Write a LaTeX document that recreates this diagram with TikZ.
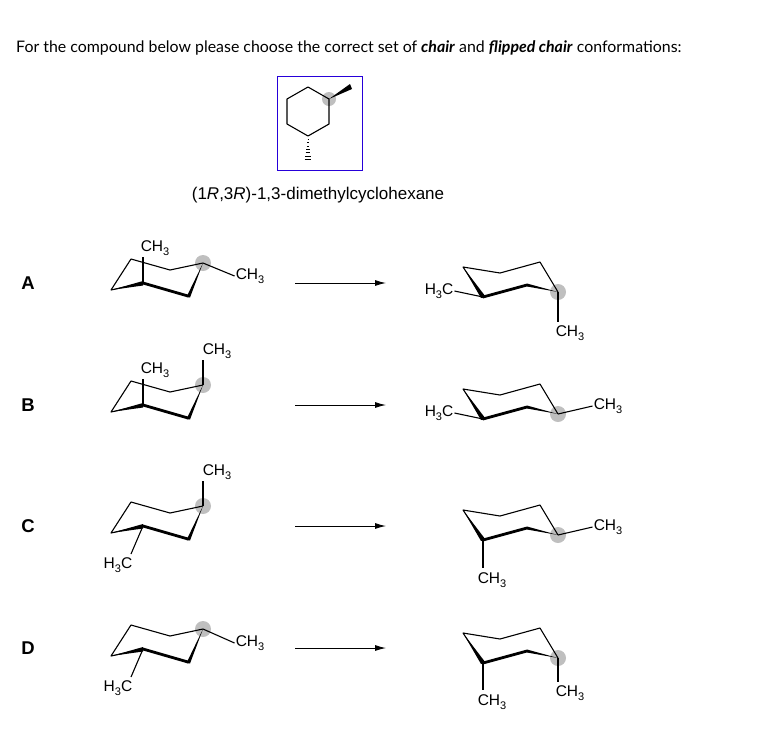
\documentclass[tikz,border=0pt]{standalone}
\usepackage{fontspec}
\usetikzlibrary{arrows.meta}
\setmainfont{Lato}
\newfontfamily\arial{Liberation Sans}
\newcommand\sbt[1]{\raisebox{-0.25em}{\fontsize{11}{12}\selectfont #1}}
\begin{document}
\begin{tikzpicture}[x=1pt,y=-1pt,
  lbl/.style={font=\arial\fontsize{15.5}{17}\selectfont,inner sep=1pt},
  bd/.style={line width=1.1pt,line join=round},
  bold/.style={line width=2.8pt,line cap=round},
  hl/.style={fill=black!25},
  rarrow/.style={-{Latex[length=11pt,width=6pt]},line width=0.9pt},
  letter/.style={font=\arial\bfseries\fontsize{18.5}{20}\selectfont}]
\useasboundingbox (0,0) rectangle (767,729);
\node[anchor=west,font=\fontsize{15.9}{18}\selectfont,inner sep=0] (title) at (16,48) {For the compound below please choose the correct set of \textbf{\textit{chair}} and \textbf{\textit{flipped chair}} conformations:};
% compound
\node[draw=blue!70!violet,line width=0.8pt,minimum width=85,minimum height=94] (box) at (319.5,123) {};
\fill[hl] (329,99) circle (7);
\draw[bd] (308,87)--(329,99)--(329,124)--(308,136)--(287,124)--(287,99)--cycle;
\fill (329,99)--(350,84)--(352,89)--cycle;
\foreach \i in {0,...,6} \draw[line width=0.6pt] ({308-0.4-\i*0.5},{139+\i*3.4})--({308+0.4+\i*0.5},{139+\i*3.4});
\node[font=\arial\fontsize{17}{19}\selectfont,inner sep=0] (name) at (318,195) {(1\textit{R},3\textit{R})-1,3-dimethylcyclohexane};
% left chair
\newcommand\lchair{%
  \fill[hl] (203,263) circle (8);
  \draw[bd] (143,283)--(111,290)--(131,259)--(170,270)--(203,263);
  \fill (111,290)--(143,281)--(143,285.5)--cycle;
  \draw[bold] (143,283)--(188,296);
  \fill (203,263)--(186.5,297)--(190,297.5)--cycle;}
\newcommand\rchair{%
  \fill[hl] (558,292) circle (8);
  \draw[bd] (483,297)--(463,267)--(500,273)--(540,262)--(558,292);
  \fill (463,267)--(481,298)--(485.5,296.5)--cycle;
  \draw[bold] (483,297)--(527,285);
  \fill (527,283.5)--(527,286.5)--(558,292)--cycle;}
\newcommand\CH{CH\sbt{3}}
\newcommand\HC{H\sbt{3}C}
% letters & arrows
\foreach \l/\y in {A/283,B/405,C/526,D/648}{
  \node[letter] (let\l) at (28,\y) {\l};
  \coordinate (as\l) at (295,\y); \coordinate (ae\l) at (386,\y);
  \draw[rarrow] (as\l)--(ae\l);}
% row A
\begin{scope}
\lchair
\node[lbl] (a1) at (155,248) {\CH};
\draw[bd] (143,283)--(143,257);
\node[lbl] (a2) at (250,276) {\CH};
\draw[bd] (203,263)--(a2.west);
\rchair
\node[lbl] (a3) at (439,291) {\HC};
\draw[bd] (483,297)--(a3.east);
\node[lbl] (a4) at (570,333) {\CH};
\draw[bd] (558,292)--(558,322);
\end{scope}
% row B
\begin{scope}[yshift=-122]
\lchair
\node[lbl] (b1) at (155,248) {\CH};
\draw[bd] (143,283)--(143,257);
\node[lbl] (b2) at (217,229) {\CH};
\draw[bd] (203,263)--(203,238);
\rchair
\node[lbl] (b3) at (439,291) {\HC};
\draw[bd] (483,297)--(b3.east);
\node[lbl] (b4) at (608,284) {\CH};
\draw[bd] (558,292)--(b4.west);
\end{scope}
% row C
\begin{scope}[yshift=-243]
\lchair
\node[lbl] (c1) at (118,322) {\HC};
\draw[bd] (143,283)--(131,311);
\node[lbl] (c2) at (217,229) {\CH};
\draw[bd] (203,263)--(203,238);
\rchair
\node[lbl] (c3) at (492,337) {\CH};
\draw[bd] (483,297)--(483,325);
\node[lbl] (c4) at (608,284) {\CH};
\draw[bd] (558,292)--(c4.west);
\end{scope}
% row D
\begin{scope}[yshift=-366]
\lchair
\node[lbl] (d1) at (118,322) {\HC};
\draw[bd] (143,283)--(131,311);
\node[lbl] (d2) at (250,277) {\CH};
\draw[bd] (203,263)--(d2.west);
\rchair
\node[lbl] (d3) at (492,336) {\CH};
\draw[bd] (483,297)--(483,324);
\node[lbl] (d4) at (570,327) {\CH};
\draw[bd] (558,292)--(558,316);
\end{scope}
\end{tikzpicture}
\end{document}
